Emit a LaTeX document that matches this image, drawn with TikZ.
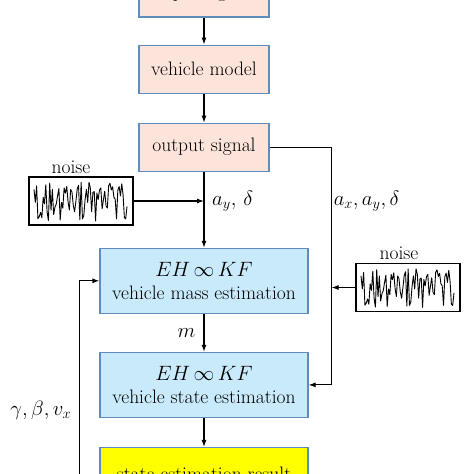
\documentclass[tikz,border=0pt]{standalone}
\usepackage{amsmath,amssymb}
\usepackage{tikz}
\usetikzlibrary{arrows.meta,positioning,calc}
\definecolor{vepink}{RGB}{252,228,218}
\definecolor{veblue}{RGB}{200,234,250}
\definecolor{veedge}{RGB}{95,140,190}
\definecolor{veyellow}{RGB}{255,255,0}
\newcommand{\vefont}{\fontsize{19.5}{23}\selectfont}
\newcommand{\noisetrace}[1]{%
  \begin{scope}[shift={(#1.center)}]
    \pgfmathsetseed{42}
    \draw[vetrace] plot[domain=-47:46, samples=72] (\x,{20*rand});
  \end{scope}}
\tikzset{
  vebox/.style={draw=veedge, line width=1.1pt, fill=vepink, align=center, minimum width=130pt, minimum height=48pt, font=\vefont},
  veestbox/.style={vebox, fill=veblue, minimum width=208pt, minimum height=65pt},
  veresbox/.style={vebox, fill=veyellow, minimum width=208pt, minimum height=52pt},
  venoise/.style={draw=black, line width=1.1pt, minimum width=104pt, minimum height=48pt},
  veline/.style={-{Latex[length=7pt,width=5pt]}, line width=1.1pt},
  velabel/.style={font=\vefont, inner sep=2pt},
  vetrace/.style={line width=0.9pt, line join=round}
}

\begin{document}
\begin{tikzpicture}[x=1pt, y=-1pt]
  \clip (0,0) rectangle (474,474);
  \node[vebox] (input) at (204,-7) {input signal};
  \node[vebox, below=27pt of input] (model) {vehicle model};
  \node[vebox, below=29pt of model] (output) {output signal};
  \node[veestbox, below=76pt of output] (mass) {$EH\,\infty\,KF$\\vehicle mass estimation};
  \node[veestbox, below=38pt of mass] (state) {$EH\,\infty\,KF$\\vehicle state estimation};
  \node[veresbox, below=29pt of state] (result) {state estimation result};
  % noise inputs
  \node[venoise] (noiseL) at (81,201) {};
  \node[velabel, above=1pt of noiseL, xshift=-10pt] (noiseLlbl) {noise};
  \noisetrace{noiseL}
  \node[venoise] (noiseR) at (408,287.5) {};
  \node[velabel, above=1pt of noiseR, xshift=-9pt] (noiseRlbl) {noise};
  \noisetrace{noiseR}
  % main chain
  \draw[veline] (input) -- (model);
  \draw[veline] (model) -- (output);
  \draw[veline] (output) -- (mass);
  \draw[veline] (mass) -- node[velabel, left=6pt] (mlbl) {$m$} (state);
  \draw[veline] (state) -- (result);
  \draw[veline] (noiseL) -- (noiseL -| output.south);
  \node[velabel, right=6pt] (aylbl) at (noiseL -| output.south) {$a_y,\,\delta$};
  % side path
  \coordinate (bus) at ($(output.east)+(62,0)$);
  \draw[veline] (output.east) -- (bus) |- (state.east);
  \draw[veline] (noiseR) -- (noiseR -| bus);
  \node[velabel, anchor=west] (axlbl) at ($(bus)+(0,54)$) {$a_x,a_y,\delta$};
  % feedback
  \coordinate (fb) at ($(result.west)+(-20,4)$);
  \draw[veline] ($(result.west)+(0,4)$) -- (fb) |- (mass.west);
  \node[velabel, anchor=east] (gblbl) at ($(fb)+(-6,-67)$) {$\gamma,\beta,v_x$};
\end{tikzpicture}
\end{document}
